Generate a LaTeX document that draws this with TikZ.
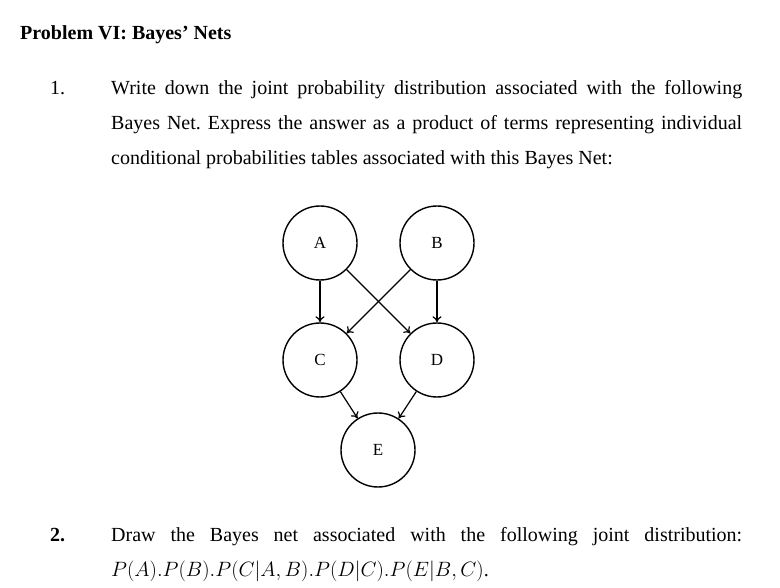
\documentclass[tikz,border=0pt]{standalone}
\usepackage{fontspec}
\setmainfont{Liberation Serif}
\usetikzlibrary{arrows.meta}
\begin{document}
\begin{tikzpicture}[x=1pt,y=-1pt,
  bn/.style={circle,draw,line width=1.4pt,minimum size=74pt,inner sep=0pt,font=\fontsize{17}{19}\selectfont},
  edge/.style={draw,line width=1.2pt,-{To[length=6pt,width=9pt]}},
  txt/.style={anchor=base west,inner sep=0pt,font=\fontsize{20}{24}\selectfont}]
\useasboundingbox (0,0) rectangle (780,588);
\node[txt,font=\fontsize{20}{24}\selectfont\bfseries] (title) at (20,40) {Problem VI: Bayes’ Nets};
\node[txt] (n1) at (50,95) {1.};
\node[txt] (l1) at (111,95) {\makebox[631pt][s]{Write down the joint probability distribution associated with the following}};
\node[txt] (l2) at (111,130) {\makebox[631pt][s]{Bayes Net.\ Express the answer as a product of terms representing individual}};
\node[txt] (l3) at (111,165) {conditional probabilities tables associated with this Bayes Net:};
\node[bn] (A) at (320,243) {A};
\node[bn] (B) at (437,243) {B};
\node[bn] (C) at (320,360) {C};
\node[bn] (D) at (437,360) {D};
\node[bn] (E) at (378,450) {E};
\draw[edge] (A) -- (C);
\draw[edge] (B) -- (D);
\draw[edge] (A) -- (D);
\draw[edge] (B) -- (C);
\draw[edge] (C) -- (E);
\draw[edge] (D) -- (E);
\node[txt,font=\fontsize{20}{24}\selectfont\bfseries] (n2) at (50,541) {2.};
\node[txt] (l4) at (111,541) {\makebox[631pt][s]{Draw the Bayes net associated with the following joint distribution:}};
\node[txt] (l5) at (111,576) {$P(A).P(B).P(C|A,B).P(D|C).P(E|B,C)$.};
\end{tikzpicture}
\end{document}
